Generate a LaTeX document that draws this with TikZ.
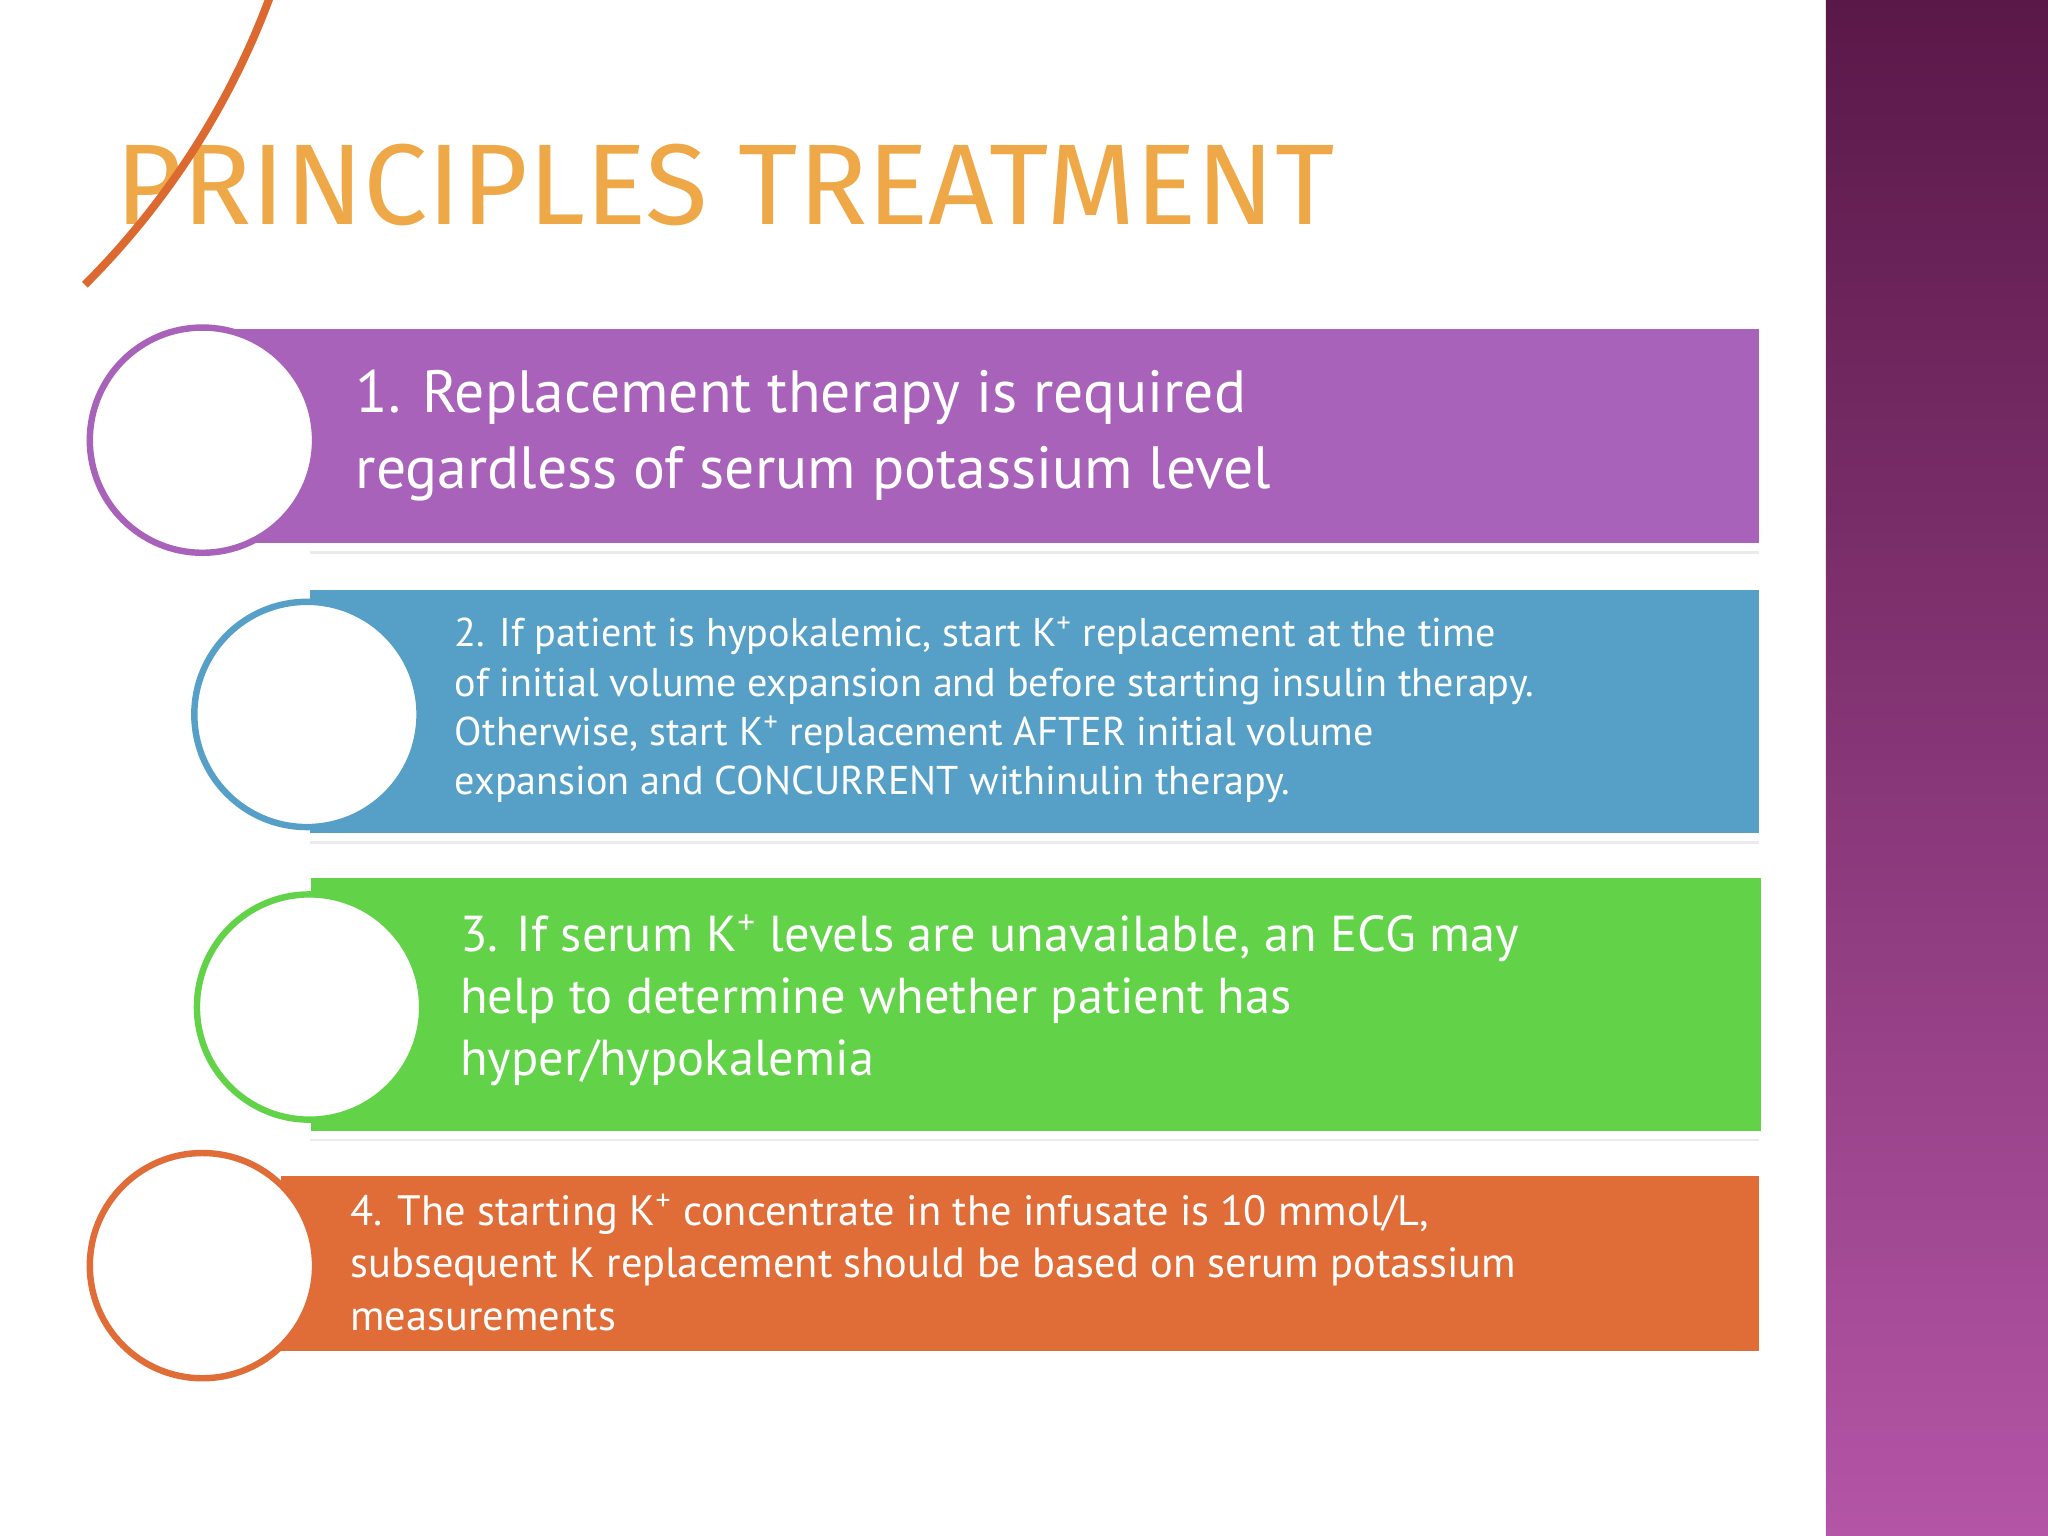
\documentclass[tikz,border=0pt]{standalone}
\usepackage{fontspec}
\setmainfont{PT Sans}
\newfontfamily\titlefont{Fira Sans}
\usetikzlibrary{positioning}
\definecolor{barpurple}{HTML}{A862BA}
\definecolor{barblue}{HTML}{56A0C8}
\definecolor{bargreen}{HTML}{62D348}
\definecolor{barorange}{HTML}{E06C38}
\definecolor{arcorange}{HTML}{DC6A30}
\definecolor{bandtop}{HTML}{5A1848}
\definecolor{bandbot}{HTML}{B455A6}
\definecolor{titlegold}{HTML}{EFA848}

\begin{document}
\begin{tikzpicture}
[x=0.02cm, y=-0.02cm,
ring/.style = {circle, fill=white, line width=2.8pt, minimum size=3.45cm, inner sep=0pt},
bartext/.style = {anchor=north west, align=left, inner sep=0pt, text=white},
]
\useasboundingbox (0,0) rectangle (1568,1176);
% side band
\shade[top color=bandtop, bottom color=bandbot] (1398,0) rectangle (1568,1176);
% title
\node[anchor=west, inner sep=0pt, text=titlegold, font=\titlefont\fontsize{50}{50}\selectfont]
  (title) at (88,142) {PRINCIPLES TREATMENT};
% decorative arc
\draw[arcorange, line width=3.5pt] (65,218) arc[start angle=-45, end angle=45, x radius=615, y radius=-615];
% bars
\fill[barpurple] (180,252) rectangle (1347,416);
\fill[barblue] (237,452) rectangle (1347,638);
\fill[bargreen] (238,672) rectangle (1348,866);
\fill[barorange] (215,900) rectangle (1347,1034);
% faint separators
\foreach \yy in {423,645,873}
  \draw[black!8, line width=1pt] (237,\yy) -- (1347,\yy);
% rings
\node[ring, draw=barpurple] (r1) at (155,337) {};
\node[ring, draw=barblue] (r2) at (235,547) {};
\node[ring, draw=bargreen] (r3) at (237,771) {};
\node[ring, draw=barorange] (r4) at (155,969) {};
% texts
\node[bartext, font=\fontsize{26}{33}\selectfont] (t1) at (272,283)
  {1. Replacement therapy is required\\regardless of serum potassium level};
\node[bartext, font=\fontsize{17.5}{21.5}\selectfont] (t2) at (348,472)
  {2. If patient is hypokalemic, start K\textsuperscript{+} replacement at the time\\
   of initial volume expansion and before starting insulin therapy.\\
   Otherwise, start K\textsuperscript{+} replacement AFTER initial volume\\
   expansion and CONCURRENT withinulin therapy.};
\node[bartext, font=\fontsize{22}{27}\selectfont] (t3) at (352,700)
  {3. If serum K\textsuperscript{+} levels are unavailable, an ECG may\\
   help to determine whether patient has\\
   hyper/hypokalemia};
\node[bartext, font=\fontsize{18.5}{23}\selectfont] (t4) at (268,914)
  {4. The starting K\textsuperscript{+} concentrate in the infusate is 10 mmol/L,\\
   subsequent K replacement should be based on serum potassium\\
   measurements};
\end{tikzpicture}
\end{document}
